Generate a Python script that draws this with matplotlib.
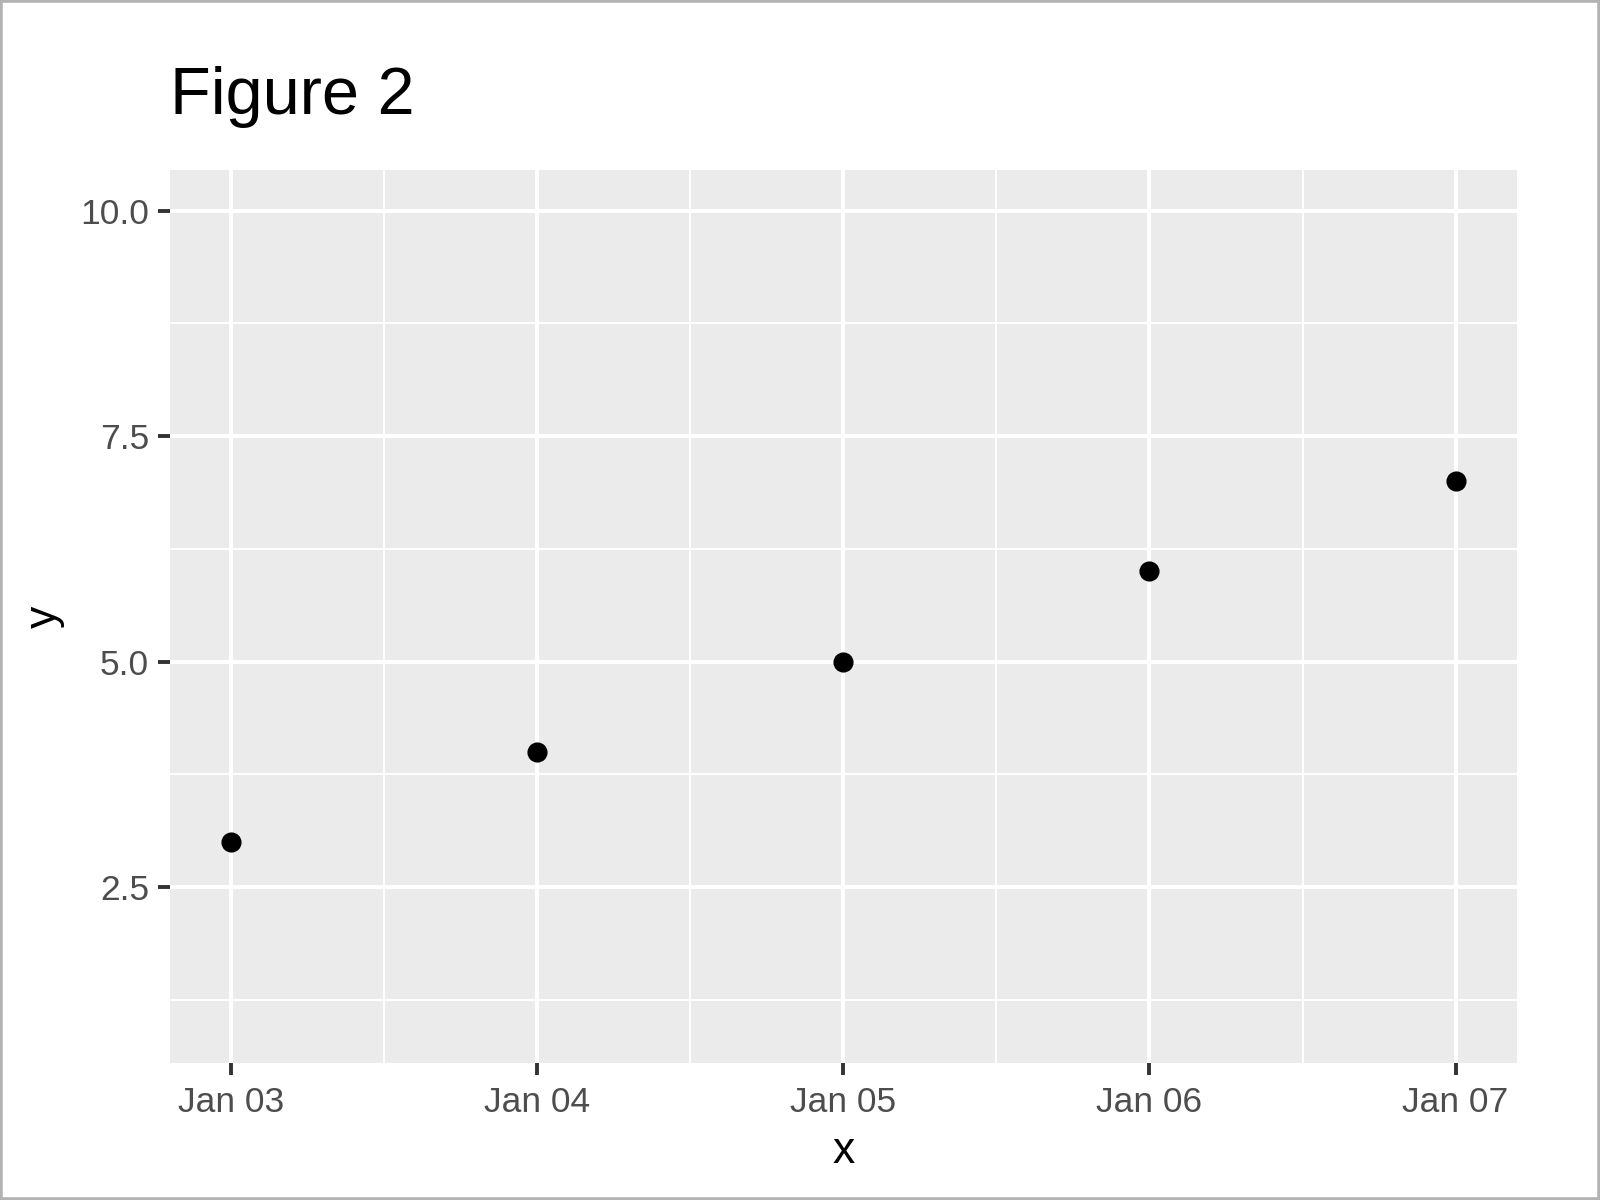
import matplotlib
matplotlib.use("Agg")
import matplotlib.pyplot as plt
import matplotlib.dates as mdates
from matplotlib.patches import Rectangle
from matplotlib.ticker import MultipleLocator
import numpy as np
import datetime as dt

# data
dates = [dt.date(2020, 1, d) for d in [3, 4, 5, 6, 7]]
values = [3, 4, 5, 6, 7]
y_limits = (1, 10)
y_ticks = [2.5, 5.0, 7.5, 10.0]

plt.rcParams["font.family"] = ["Liberation Sans", "DejaVu Sans"]

fig = plt.figure(figsize=(16, 12), dpi=100)
ax = fig.add_axes([0.10625, 0.1142, 0.948 - 0.10625, 0.8583 - 0.1142])
ax.set_facecolor("#EBEBEB")

ax.plot(dates, values, "o", color="black", markersize=13.5, zorder=3)

# ggplot-style expansion (5%)
xnum = mdates.date2num(dates)
xr = xnum.max() - xnum.min()
ax.set_xlim(xnum.min() - 0.05 * xr, xnum.max() + 0.05 * xr)
yr = y_limits[1] - y_limits[0]
ax.set_ylim(y_limits[0] - 0.05 * yr, y_limits[1] + 0.05 * yr)

ax.xaxis.set_major_locator(mdates.DayLocator())
ax.xaxis.set_major_formatter(mdates.DateFormatter("%b %d"))
ax.xaxis.set_minor_locator(MultipleLocator(0.5))
ax.set_yticks(y_ticks)
ax.set_yticklabels([f"{v:.1f}" for v in y_ticks])
ax.yaxis.set_minor_locator(MultipleLocator(1.25))

ax.grid(which="major", color="white", linewidth=2.9)
ax.grid(which="minor", color="white", linewidth=1.4)
ax.set_axisbelow(True)
for s in ax.spines.values():
    s.set_visible(False)

ax.tick_params(which="major", length=8.5, width=2.8, color="#333333",
               labelsize=25.5, labelcolor="#4D4D4D")
ax.tick_params(axis="x", which="major", pad=8)
ax.tick_params(axis="y", which="major", pad=6.5)
ax.tick_params(which="minor", length=0)

ax.set_xlabel("x", fontsize=32, labelpad=9)
ax.set_ylabel("y", fontsize=32, labelpad=11)
fig.text(0.10625, 0.905, "Figure 2", fontsize=48, ha="left", va="baseline")

fig.patches.append(Rectangle((0, 0), 1, 1, transform=fig.transFigure,
                             fill=False, edgecolor="#B3B3B3", linewidth=4))

fig.savefig("out.png", dpi=100)
